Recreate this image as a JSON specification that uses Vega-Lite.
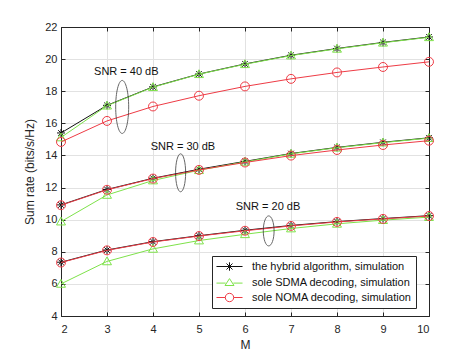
{
  "$schema": "https://vega.github.io/schema/vega-lite/v6.json",
  "width": 368,
  "height": 289,
  "autosize": "none",
  "padding": {"left": 61, "top": 27, "right": 45, "bottom": 39},
  "background": "white",
  "config": {
    "font": "Liberation Sans",
    "view": {"stroke": "#262626", "strokeWidth": 1},
    "axis": {
      "labelFont": "Liberation Sans",
      "titleFont": "Liberation Sans",
      "labelFontSize": 11,
      "titleFontSize": 12,
      "titleFontWeight": "normal",
      "labelColor": "#262626",
      "titleColor": "#262626",
      "domainColor": "#262626",
      "tickColor": "#262626",
      "gridColor": "#e2e2e2",
      "tickSize": -4
    }
  },
  "datasets": {
    "series": [
      {"M": 2, "snr": "40", "scheme": "the hybrid algorithm, simulation", "rate": 15.4},
      {"M": 3, "snr": "40", "scheme": "the hybrid algorithm, simulation", "rate": 17.12},
      {"M": 4, "snr": "40", "scheme": "the hybrid algorithm, simulation", "rate": 18.27},
      {"M": 5, "snr": "40", "scheme": "the hybrid algorithm, simulation", "rate": 19.07},
      {"M": 6, "snr": "40", "scheme": "the hybrid algorithm, simulation", "rate": 19.7},
      {"M": 7, "snr": "40", "scheme": "the hybrid algorithm, simulation", "rate": 20.24},
      {"M": 8, "snr": "40", "scheme": "the hybrid algorithm, simulation", "rate": 20.66},
      {"M": 9, "snr": "40", "scheme": "the hybrid algorithm, simulation", "rate": 21.04},
      {"M": 10, "snr": "40", "scheme": "the hybrid algorithm, simulation", "rate": 21.38},
      {"M": 2, "snr": "30", "scheme": "the hybrid algorithm, simulation", "rate": 10.92},
      {"M": 3, "snr": "30", "scheme": "the hybrid algorithm, simulation", "rate": 11.88},
      {"M": 4, "snr": "30", "scheme": "the hybrid algorithm, simulation", "rate": 12.58},
      {"M": 5, "snr": "30", "scheme": "the hybrid algorithm, simulation", "rate": 13.14},
      {"M": 6, "snr": "30", "scheme": "the hybrid algorithm, simulation", "rate": 13.63},
      {"M": 7, "snr": "30", "scheme": "the hybrid algorithm, simulation", "rate": 14.12},
      {"M": 8, "snr": "30", "scheme": "the hybrid algorithm, simulation", "rate": 14.5},
      {"M": 9, "snr": "30", "scheme": "the hybrid algorithm, simulation", "rate": 14.82},
      {"M": 10, "snr": "30", "scheme": "the hybrid algorithm, simulation", "rate": 15.1},
      {"M": 2, "snr": "20", "scheme": "the hybrid algorithm, simulation", "rate": 7.35},
      {"M": 3, "snr": "20", "scheme": "the hybrid algorithm, simulation", "rate": 8.11},
      {"M": 4, "snr": "20", "scheme": "the hybrid algorithm, simulation", "rate": 8.63},
      {"M": 5, "snr": "20", "scheme": "the hybrid algorithm, simulation", "rate": 9.0},
      {"M": 6, "snr": "20", "scheme": "the hybrid algorithm, simulation", "rate": 9.34},
      {"M": 7, "snr": "20", "scheme": "the hybrid algorithm, simulation", "rate": 9.64},
      {"M": 8, "snr": "20", "scheme": "the hybrid algorithm, simulation", "rate": 9.88},
      {"M": 9, "snr": "20", "scheme": "the hybrid algorithm, simulation", "rate": 10.07},
      {"M": 10, "snr": "20", "scheme": "the hybrid algorithm, simulation", "rate": 10.25},
      {"M": 2, "snr": "40", "scheme": "sole SDMA decoding, simulation", "rate": 15.12},
      {"M": 3, "snr": "40", "scheme": "sole SDMA decoding, simulation", "rate": 17.1},
      {"M": 4, "snr": "40", "scheme": "sole SDMA decoding, simulation", "rate": 18.25},
      {"M": 5, "snr": "40", "scheme": "sole SDMA decoding, simulation", "rate": 19.06},
      {"M": 6, "snr": "40", "scheme": "sole SDMA decoding, simulation", "rate": 19.68},
      {"M": 7, "snr": "40", "scheme": "sole SDMA decoding, simulation", "rate": 20.22},
      {"M": 8, "snr": "40", "scheme": "sole SDMA decoding, simulation", "rate": 20.64},
      {"M": 9, "snr": "40", "scheme": "sole SDMA decoding, simulation", "rate": 21.02},
      {"M": 10, "snr": "40", "scheme": "sole SDMA decoding, simulation", "rate": 21.36},
      {"M": 2, "snr": "30", "scheme": "sole SDMA decoding, simulation", "rate": 9.88},
      {"M": 3, "snr": "30", "scheme": "sole SDMA decoding, simulation", "rate": 11.54},
      {"M": 4, "snr": "30", "scheme": "sole SDMA decoding, simulation", "rate": 12.44},
      {"M": 5, "snr": "30", "scheme": "sole SDMA decoding, simulation", "rate": 13.08},
      {"M": 6, "snr": "30", "scheme": "sole SDMA decoding, simulation", "rate": 13.6},
      {"M": 7, "snr": "30", "scheme": "sole SDMA decoding, simulation", "rate": 14.1},
      {"M": 8, "snr": "30", "scheme": "sole SDMA decoding, simulation", "rate": 14.48},
      {"M": 9, "snr": "30", "scheme": "sole SDMA decoding, simulation", "rate": 14.8},
      {"M": 10, "snr": "30", "scheme": "sole SDMA decoding, simulation", "rate": 15.08},
      {"M": 2, "snr": "20", "scheme": "sole SDMA decoding, simulation", "rate": 6.0},
      {"M": 3, "snr": "20", "scheme": "sole SDMA decoding, simulation", "rate": 7.4},
      {"M": 4, "snr": "20", "scheme": "sole SDMA decoding, simulation", "rate": 8.18},
      {"M": 5, "snr": "20", "scheme": "sole SDMA decoding, simulation", "rate": 8.7},
      {"M": 6, "snr": "20", "scheme": "sole SDMA decoding, simulation", "rate": 9.09},
      {"M": 7, "snr": "20", "scheme": "sole SDMA decoding, simulation", "rate": 9.45},
      {"M": 8, "snr": "20", "scheme": "sole SDMA decoding, simulation", "rate": 9.74},
      {"M": 9, "snr": "20", "scheme": "sole SDMA decoding, simulation", "rate": 9.97},
      {"M": 10, "snr": "20", "scheme": "sole SDMA decoding, simulation", "rate": 10.16},
      {"M": 2, "snr": "40", "scheme": "sole NOMA decoding, simulation", "rate": 14.84},
      {"M": 3, "snr": "40", "scheme": "sole NOMA decoding, simulation", "rate": 16.15},
      {"M": 4, "snr": "40", "scheme": "sole NOMA decoding, simulation", "rate": 17.05},
      {"M": 5, "snr": "40", "scheme": "sole NOMA decoding, simulation", "rate": 17.72},
      {"M": 6, "snr": "40", "scheme": "sole NOMA decoding, simulation", "rate": 18.3},
      {"M": 7, "snr": "40", "scheme": "sole NOMA decoding, simulation", "rate": 18.77},
      {"M": 8, "snr": "40", "scheme": "sole NOMA decoding, simulation", "rate": 19.17},
      {"M": 9, "snr": "40", "scheme": "sole NOMA decoding, simulation", "rate": 19.51},
      {"M": 10, "snr": "40", "scheme": "sole NOMA decoding, simulation", "rate": 19.83},
      {"M": 2, "snr": "30", "scheme": "sole NOMA decoding, simulation", "rate": 10.9},
      {"M": 3, "snr": "30", "scheme": "sole NOMA decoding, simulation", "rate": 11.86},
      {"M": 4, "snr": "30", "scheme": "sole NOMA decoding, simulation", "rate": 12.56},
      {"M": 5, "snr": "30", "scheme": "sole NOMA decoding, simulation", "rate": 13.1},
      {"M": 6, "snr": "30", "scheme": "sole NOMA decoding, simulation", "rate": 13.56},
      {"M": 7, "snr": "30", "scheme": "sole NOMA decoding, simulation", "rate": 13.99},
      {"M": 8, "snr": "30", "scheme": "sole NOMA decoding, simulation", "rate": 14.34},
      {"M": 9, "snr": "30", "scheme": "sole NOMA decoding, simulation", "rate": 14.65},
      {"M": 10, "snr": "30", "scheme": "sole NOMA decoding, simulation", "rate": 14.92},
      {"M": 2, "snr": "20", "scheme": "sole NOMA decoding, simulation", "rate": 7.33},
      {"M": 3, "snr": "20", "scheme": "sole NOMA decoding, simulation", "rate": 8.09},
      {"M": 4, "snr": "20", "scheme": "sole NOMA decoding, simulation", "rate": 8.61},
      {"M": 5, "snr": "20", "scheme": "sole NOMA decoding, simulation", "rate": 8.98},
      {"M": 6, "snr": "20", "scheme": "sole NOMA decoding, simulation", "rate": 9.31},
      {"M": 7, "snr": "20", "scheme": "sole NOMA decoding, simulation", "rate": 9.61},
      {"M": 8, "snr": "20", "scheme": "sole NOMA decoding, simulation", "rate": 9.86},
      {"M": 9, "snr": "20", "scheme": "sole NOMA decoding, simulation", "rate": 10.05},
      {"M": 10, "snr": "20", "scheme": "sole NOMA decoding, simulation", "rate": 10.23}
    ],
    "labels": [
      {"M": 3.42, "rate": 19.2, "label": "SNR = 40 dB"},
      {"M": 4.65, "rate": 14.53, "label": "SNR = 30 dB"},
      {"M": 6.5, "rate": 10.79, "label": "SNR = 20 dB"}
    ]
  },
  "layer": [
    {
      "data": {"name": "series"},
      "transform": [{"filter": "datum.scheme === 'the hybrid algorithm, simulation'"}],
      "mark": {"type": "line", "strokeWidth": 1, "color": "#111111"},
      "encoding": {
        "x": {"field": "M", "type": "quantitative", "scale": {"domain": [2, 10], "nice": false}, "axis": {"title": "M", "values": [2,3,4,5,6,7,8,9,10], "grid": true, "labelPadding": 11, "titlePadding": 5}},
        "y": {"field": "rate", "type": "quantitative", "scale": {"domain": [4, 22], "nice": false, "zero": false}, "axis": {"title": "Sum rate (bits/s/Hz)", "values": [4,6,8,10,12,14,16,18,20,22], "grid": true, "labelPadding": 8, "titlePadding": 8}},
        "detail": {"field": "snr"}
      }
    },
    {
      "data": {"name": "series"},
      "transform": [{"filter": "datum.scheme === 'the hybrid algorithm, simulation'"}],
      "mark": {"type": "point", "filled": false, "strokeWidth": 1, "size": 64, "color": "#111111", "opacity": 1, "shape": "M0,-1L0,1M-1,0L1,0M-0.7,-0.7L0.7,0.7M-0.7,0.7L0.7,-0.7"},
      "encoding": {
        "x": {"field": "M", "type": "quantitative", "axis": null},
        "y": {"field": "rate", "type": "quantitative", "axis": null}
      }
    },
    {
      "data": {"name": "series"},
      "transform": [{"filter": "datum.scheme === 'sole SDMA decoding, simulation'"}],
      "mark": {"type": "line", "strokeWidth": 1, "color": "#7ee24a"},
      "encoding": {
        "x": {"field": "M", "type": "quantitative", "axis": null},
        "y": {"field": "rate", "type": "quantitative", "axis": null},
        "detail": {"field": "snr"}
      }
    },
    {
      "data": {"name": "series"},
      "transform": [{"filter": "datum.scheme === 'sole SDMA decoding, simulation'"}],
      "mark": {"type": "point", "filled": false, "strokeWidth": 1, "size": 80, "color": "#7ee24a", "opacity": 1, "shape": "M0,-1L1,0.75L-1,0.75Z"},
      "encoding": {
        "x": {"field": "M", "type": "quantitative", "axis": null},
        "y": {"field": "rate", "type": "quantitative", "axis": null}
      }
    },
    {
      "data": {"name": "series"},
      "transform": [{"filter": "datum.scheme === 'sole NOMA decoding, simulation'"}],
      "mark": {"type": "line", "strokeWidth": 1, "color": "#ee3b45"},
      "encoding": {
        "x": {"field": "M", "type": "quantitative", "axis": null},
        "y": {"field": "rate", "type": "quantitative", "axis": null},
        "detail": {"field": "snr"}
      }
    },
    {
      "data": {"name": "series"},
      "transform": [{"filter": "datum.scheme === 'sole NOMA decoding, simulation'"}],
      "mark": {"type": "point", "filled": false, "strokeWidth": 1, "size": 80, "color": "#ee3b45", "opacity": 1, "shape": "circle"},
      "encoding": {
        "x": {"field": "M", "type": "quantitative", "axis": null},
        "y": {"field": "rate", "type": "quantitative", "axis": null}
      }
    },
    {
      "data": {"name": "series"},
      "mark": {"type": "point", "filled": false, "strokeWidth": 1, "opacity": 0},
      "encoding": {
        "x": {"field": "M", "type": "quantitative", "axis": {"orient": "top", "values": [2,3,4,5,6,7,8,9,10], "labels": false, "title": null, "grid": false}},
        "y": {"field": "rate", "type": "quantitative", "axis": {"orient": "right", "values": [4,6,8,10,12,14,16,18,20,22], "labels": false, "title": null, "grid": false}},
        "color": {
          "field": "scheme", "type": "nominal",
          "scale": {"domain": ["the hybrid algorithm, simulation", "sole SDMA decoding, simulation", "sole NOMA decoding, simulation"], "range": ["#111111", "#7ee24a", "#ee3b45"]},
          "legend": {
            "orient": "none", "legendX": 151, "legendY": 229, "title": null,
            "symbolSize": 144, "symbolStrokeWidth": 1, "symbolOpacity": 1, "symbolOffset": 7,
            "labelFontSize": 11, "labelFont": "Liberation Sans", "labelColor": "#111111",
            "strokeColor": "#262626", "fillColor": "white", "padding": 4, "rowPadding": 3, "labelOffset": 16
          }
        },
        "shape": {
          "field": "scheme", "type": "nominal",
          "scale": {"domain": ["the hybrid algorithm, simulation", "sole SDMA decoding, simulation", "sole NOMA decoding, simulation"], "range": ["M-2.17,0L2.17,0M0,-0.7L0,0.7M-0.7,0L0.7,0M-0.5,-0.5L0.5,0.5M-0.5,0.5L0.5,-0.5", "M-2.17,0.1L-0.65,0.1M0.65,0.1L2.17,0.1M0,-0.65L0.75,0.5L-0.75,0.5Z", "M-2.17,0L-0.7,0M0.7,0L2.17,0M0.7,0A0.7,0.7 0 1,1 -0.7,0A0.7,0.7 0 1,1 0.7,0Z"]},
          "legend": {
            "orient": "none", "legendX": 151, "legendY": 229, "title": null,
            "symbolSize": 144, "symbolStrokeWidth": 1, "symbolOpacity": 1, "symbolOffset": 7,
            "labelFontSize": 11, "labelFont": "Liberation Sans", "labelColor": "#111111",
            "strokeColor": "#262626", "fillColor": "white", "padding": 4, "rowPadding": 3, "labelOffset": 16
          }
        }
      }
    },
    {
      "data": {"values": [{"M": 3.33, "rate": 17.02}]},
      "mark": {"type": "point", "filled": false, "color": "#262626", "strokeWidth": 1, "size": 2809, "shape": "M0,-1A0.245,1 0 1,1 0,1A0.245,1 0 1,1 0,-1Z"},
      "encoding": {
        "x": {"field": "M", "type": "quantitative", "axis": null},
        "y": {"field": "rate", "type": "quantitative", "axis": null}
      }
    },
    {
      "data": {"values": [{"M": 4.6, "rate": 12.92}]},
      "mark": {"type": "point", "filled": false, "color": "#262626", "strokeWidth": 1, "size": 1444, "shape": "M0,-1A0.265,1 0 1,1 0,1A0.265,1 0 1,1 0,-1Z"},
      "encoding": {
        "x": {"field": "M", "type": "quantitative", "axis": null},
        "y": {"field": "rate", "type": "quantitative", "axis": null}
      }
    },
    {
      "data": {"values": [{"M": 6.515, "rate": 9.3}]},
      "mark": {"type": "point", "filled": false, "color": "#262626", "strokeWidth": 1, "size": 900, "shape": "M0,-1A0.36,1 0 1,1 0,1A0.36,1 0 1,1 0,-1Z"},
      "encoding": {
        "x": {"field": "M", "type": "quantitative", "axis": null},
        "y": {"field": "rate", "type": "quantitative", "axis": null}
      }
    },
    {
      "data": {"name": "labels"},
      "mark": {"type": "text", "fontSize": 11, "font": "Liberation Sans", "color": "#111111", "align": "center", "baseline": "middle"},
      "encoding": {
        "x": {"field": "M", "type": "quantitative", "axis": null},
        "y": {"field": "rate", "type": "quantitative", "axis": null},
        "text": {"field": "label"}
      }
    }
  ],
  "resolve": {"axis": {"x": "independent", "y": "independent"}}
}
